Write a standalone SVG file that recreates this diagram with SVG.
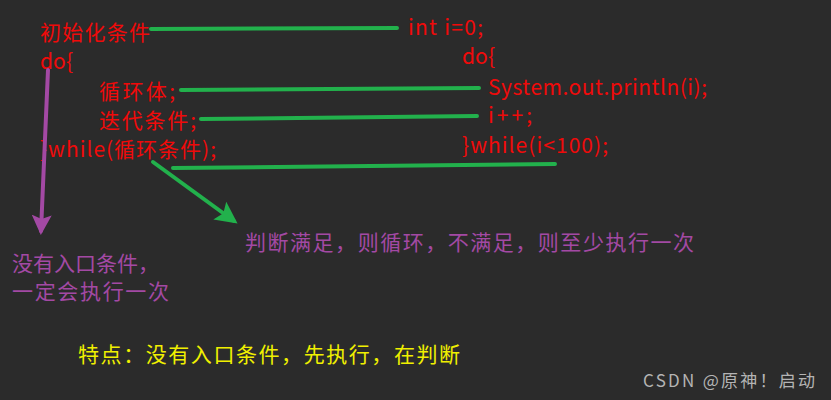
<svg xmlns="http://www.w3.org/2000/svg" width="831" height="400" viewBox="0 0 831 400">
<style>
text{font-family:"Noto Sans CJK SC","Noto Sans",sans-serif;}
.r{fill:#f00a0a;font-size:21px;}
.p{fill:#a349a4;font-size:21px;}
.y{fill:#f0f000;font-size:21px;}
.w{fill:#b4b4b4;font-size:17px;}
.g{stroke:#22b14c;stroke-width:4;stroke-linecap:round;fill:none;}
.v{stroke:#a349a4;stroke-width:4;stroke-linecap:round;fill:none;}
</style>
<defs>
<marker id="ag" viewBox="0 0 10 10" refX="8" refY="5" markerWidth="5.5" markerHeight="5.5" orient="auto" markerUnits="strokeWidth"><path d="M0,0 L10,5 L0,10 L2,5 z" fill="#22b14c"/></marker>
<marker id="ap" viewBox="0 0 10 10" refX="8" refY="5" markerWidth="5" markerHeight="5" orient="auto" markerUnits="strokeWidth"><path d="M0,0 L10,5 L0,10 L2,5 z" fill="#a349a4"/></marker>
</defs>
<rect width="831" height="400" fill="#2b2b2b"/>
<g id="code-left">
<text class="r" x="40" y="40" textLength="110">初始化条件</text>
<text class="r" x="40" y="69" textLength="33">do{</text>
<text class="r" x="99" y="99" textLength="76">循环体;</text>
<text class="r" x="99" y="128" textLength="97">迭代条件;</text>
<text class="r" x="40" y="157" textLength="176">}while(循环条件);</text>
</g>
<g id="code-right">
<text class="r" x="408" y="35" textLength="75">int i=0;</text>
<text class="r" x="462" y="64" textLength="33">do{</text>
<text class="r" x="488" y="95" textLength="219">System.out.println(i);</text>
<text class="r" x="488" y="123" textLength="44">i++;</text>
<text class="r" x="462" y="153" textLength="146">}while(i&lt;100);</text>
</g>
<g id="connectors">
<line class="g" x1="151" y1="29" x2="397" y2="28"/>
<line class="g" x1="181" y1="90" x2="479" y2="88"/>
<line class="g" x1="201" y1="119" x2="477" y2="116"/>
<line class="g" x1="173" y1="168" x2="555" y2="164"/>
<line class="g" x1="153" y1="162" x2="234" y2="221" marker-end="url(#ag)"/>
<line class="v" x1="48" y1="70" x2="41" y2="231" marker-end="url(#ap)"/>
</g>
<g id="note-left">
<text class="p" x="12" y="271">没有入口条件，</text>
<text class="p" x="12" y="299" textLength="157">一定会执行一次</text>
</g>
<g id="note-right">
<text class="p" x="245" y="250" textLength="449">判断满足，则循环，不满足，则至少执行一次</text>
</g>
<g id="feature">
<text class="y" x="78" y="362" textLength="382">特点：没有入口条件，先执行，在判断</text>
</g>
<text class="w" x="643" y="387" textLength="172">CSDN @原神！启动</text>
</svg>
